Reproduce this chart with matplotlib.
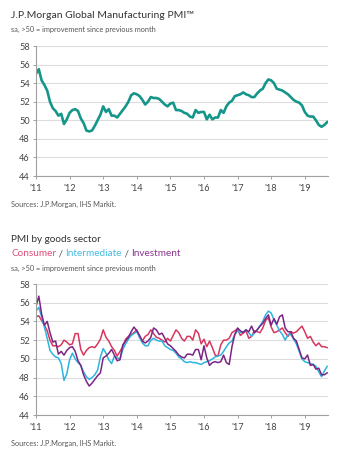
import matplotlib
matplotlib.use("Agg")
import matplotlib.pyplot as plt
import numpy as np

plt.rcParams['font.family'] = ['Lato', 'DejaVu Sans']

# monthly readings, Jan 2011 .. Sep 2019
global_pmi = [55.0, 55.5, 54.3, 53.8, 53.2, 52.0, 51.3, 51.0, 50.5, 50.7, 49.6, 50.1,
              50.8, 51.1, 51.2, 51.0, 50.2, 49.7, 48.9, 48.8, 48.9, 49.4, 50.0, 50.6,
              51.5, 50.9, 51.2, 50.5, 50.5, 50.3, 50.7, 51.1, 51.5, 52.0, 52.7, 52.9,
              52.8, 52.6, 52.2, 51.7, 52.0, 52.5, 52.4, 52.4, 52.3, 52.0, 51.7, 51.5,
              51.8, 51.9, 51.1, 51.1, 51.0, 50.8, 50.7, 50.4, 50.3, 51.1, 50.8, 50.9,
              50.9, 50.1, 50.6, 50.1, 50.3, 50.3, 51.1, 50.8, 51.5, 51.9, 52.1, 52.6,
              52.7, 52.8, 53.0, 52.8, 52.7, 52.5, 52.5, 52.9, 53.2, 53.4, 54.0, 54.4,
              54.3, 54.0, 53.4, 53.3, 53.2, 53.0, 52.8, 52.5, 52.2, 52.0, 51.9, 51.6,
              50.9, 50.5, 50.4, 50.4, 50.0, 49.5, 49.3, 49.5, 49.8]

consumer = [54.5, 54.6, 54.1, 53.6, 53.0, 52.0, 51.4, 51.4, 51.3, 51.5, 52.0, 51.8,
            51.5, 51.6, 52.7, 52.7, 51.0, 50.4, 50.9, 51.2, 51.3, 51.2, 51.6, 52.1,
            53.1, 52.3, 51.9, 51.3, 50.9, 50.3, 50.8, 51.3, 52.1, 52.4, 52.6, 52.8,
            53.1, 52.3, 51.9, 52.4, 52.6, 53.1, 52.7, 52.3, 52.2, 52.0, 51.8, 52.2,
            51.9, 52.5, 53.1, 52.8, 52.2, 51.9, 52.4, 52.4, 52.0, 53.1, 52.75, 51.6,
            52.1, 51.3, 51.9, 51.2, 50.4, 50.3, 51.5, 52.0, 52.0, 52.2, 52.8, 53.0,
            53.2, 52.5, 52.75, 53.0, 52.2, 52.4, 53.0, 52.9, 52.8, 53.3, 54.1, 54.4,
            53.4, 52.8, 52.9, 53.1, 53.3, 52.8, 52.4, 52.9, 52.75, 52.9, 53.2, 53.5,
            52.9, 52.2, 52.4, 51.8, 51.4, 51.7, 51.3, 51.3, 51.2]

intermediate = [55.1, 55.5, 54.5, 53.4, 52.2, 50.9, 50.5, 50.2, 50.1, 49.5, 47.7, 48.4,
                49.9, 50.6, 50.0, 49.6, 49.3, 48.6, 48.1, 47.8, 48.0, 48.3, 48.8, 50.2,
                51.1, 50.6, 49.9, 49.5, 50.3, 50.1, 50.0, 51.0, 51.6, 52.1, 52.5, 52.7,
                52.9, 52.3, 51.7, 51.4, 51.4, 52.0, 52.2, 52.0, 51.9, 51.9, 51.4, 51.2,
                51.0, 50.9, 50.6, 50.2, 50.0, 49.7, 49.6, 49.7, 49.6, 49.6, 49.5, 49.4,
                49.6, 49.7, 49.8, 50.0, 50.2, 50.3, 50.4, 50.8, 51.3, 51.7, 51.9, 52.6,
                53.0, 52.8, 52.9, 53.1, 52.8, 52.4, 52.75, 53.1, 53.5, 54.0, 54.7, 55.1,
                54.9, 54.2, 53.6, 53.0, 52.6, 52.0, 52.6, 52.6, 52.1, 51.6, 50.8, 50.0,
                49.7, 49.6, 49.5, 49.4, 49.2, 48.6, 48.1, 48.7, 49.2]

investment = [55.6, 56.7, 54.8, 53.6, 54.0, 52.8, 51.8, 51.9, 50.5, 50.8, 50.4, 50.9,
              51.2, 51.3, 50.8, 49.8, 49.3, 48.3, 47.6, 47.1, 47.4, 47.8, 48.2, 48.5,
              50.1, 50.3, 50.6, 51.0, 50.4, 49.8, 49.9, 51.5, 51.9, 52.3, 52.9, 53.4,
              53.0, 52.5, 51.9, 51.7, 51.9, 52.3, 53.3, 53.1, 52.6, 52.75, 52.2, 51.6,
              51.4, 51.1, 50.8, 50.4, 50.2, 50.1, 50.5, 50.5, 50.4, 51.0, 51.0, 49.9,
              51.4, 50.1, 49.3, 49.6, 49.7, 49.6, 49.7, 50.4, 49.6, 49.4, 51.3, 52.6,
              53.3, 53.0, 52.8, 53.1, 52.9, 53.5, 52.8, 53.1, 53.5, 53.8, 54.3, 54.7,
              53.6, 54.3, 53.7, 54.5, 54.7, 53.3, 52.9, 52.9, 52.2, 51.9, 51.0, 50.1,
              50.0, 50.4, 49.3, 49.4, 48.9, 49.0, 48.3, 48.3, 48.5]

year_labels = ["'11", "'12", "'13", "'14", "'15", "'16", "'17", "'18", "'19"]
y_ticks = [44, 46, 48, 50, 52, 54, 56, 58]

teal = '#16968a'
red = '#d9365f'
cyan = '#2db4e0'
purple = '#7a2583'
grey_txt = '#444444'

fig = plt.figure(figsize=(3.5, 4.54), dpi=100)


def style_axes(ax):
    ax.set_xlim(0, 104.3)
    ax.set_ylim(44, 58)
    ax.set_yticks(y_ticks)
    ax.set_xticks(np.arange(0, 12 * len(year_labels), 12))
    ax.set_xticklabels(year_labels)
    ax.grid(axis='y', color='#dcdcdc', lw=0.8)
    ax.set_axisbelow(True)
    for s in ['top', 'right']:
        ax.spines[s].set_visible(False)
    for s in ['left', 'bottom']:
        ax.spines[s].set_color('#a0a0a0')
        ax.spines[s].set_linewidth(0.8)
    ax.tick_params(axis='both', colors='#a0a0a0', length=2.5, width=0.7,
                   labelsize=6.6, labelcolor=grey_txt, pad=2)
    ax.tick_params(axis='x', pad=3)


months = np.arange(len(global_pmi))

# top panel
ax1 = fig.add_axes([36 / 350, 1 - 176 / 454, 292 / 350, 130 / 454])
style_axes(ax1)
ax1.plot(months, global_pmi, color=teal, lw=1.9, solid_joinstyle='round')

fig.text(11 / 350, 1 - 15 / 454, 'J.P.Morgan Global Manufacturing PMI™',
         fontsize=7.5, color='#333333', va='center')
fig.text(11 / 350, 1 - 29 / 454, 'sa, >50 = improvement since previous month',
         fontsize=5.3, color='#555555', va='center')
fig.text(11 / 350, 1 - 204 / 454, 'Sources: J.P.Morgan, IHS Markit.',
         fontsize=5.3, color='#555555', va='center')

# bottom panel
ax2 = fig.add_axes([36 / 350, 1 - 415 / 454, 292 / 350, 131 / 454])
style_axes(ax2)
m2 = np.arange(len(consumer))
ax2.plot(m2, consumer, color=red, lw=1.1)
ax2.plot(m2, intermediate, color=cyan, lw=1.1)
ax2.plot(m2, investment, color=purple, lw=1.1)

fig.text(11 / 350, 1 - 239 / 454, 'PMI by goods sector',
         fontsize=7.2, color='#333333', va='center')
parts = [('Consumer', '#de4d78'), (' / ', '#555555'), ('Intermediate', '#45bde3'),
         (' / ', '#555555'), ('Investment', '#8a3590')]
fig.canvas.draw()
x0 = 11 / 350
r = fig.canvas.get_renderer()
for txt, col in parts:
    t = fig.text(x0, 1 - 254 / 454, txt, fontsize=7.2, color=col, va='center')
    bb = t.get_window_extent(renderer=r)
    x0 += bb.width / fig.bbox.width
fig.text(11 / 350, 1 - 268 / 454, 'sa, >50 = improvement since previous month',
         fontsize=5.3, color='#555555', va='center')
fig.text(11 / 350, 1 - 443 / 454, 'Sources: J.P.Morgan, IHS Markit.',
         fontsize=5.3, color='#555555', va='center')

fig.savefig('out.png', dpi=100)
